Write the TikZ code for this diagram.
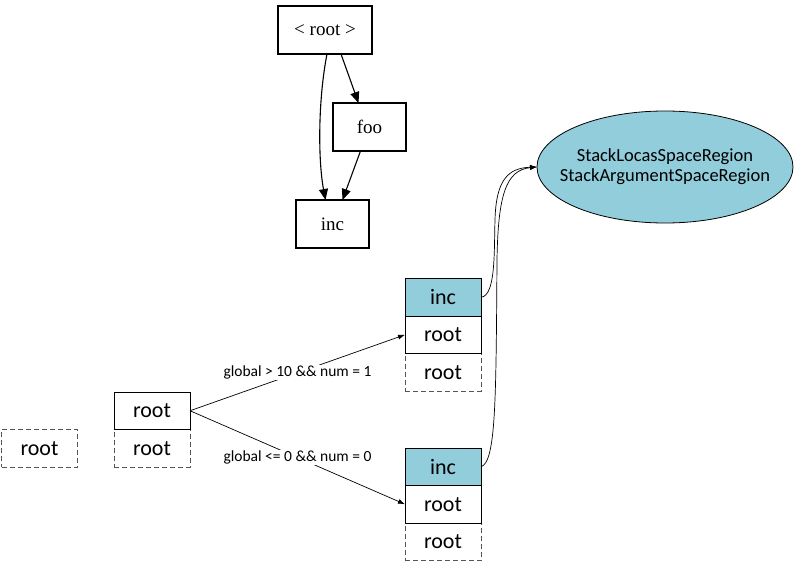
\documentclass[tikz,border=0pt]{standalone}
\usepackage{fontspec}
\setmainfont{Carlito}
\newfontfamily\gvfont{Liberation Serif}
\usetikzlibrary{shapes.geometric,arrows.meta,positioning,calc}
\definecolor{aqua}{RGB}{146,205,220}
\definecolor{dashgray}{RGB}{85,85,85}
\tikzset{
  gvbox/.style={draw, line width=1.1pt, minimum width=73pt, minimum height=48pt, inner sep=2pt, outer sep=0pt, font=\gvfont\fontsize{19}{22}\selectfont},
  gvedge/.style={line width=1.1pt, -{Triangle[length=11pt,width=9pt]}},
  cell/.style={draw, line width=0.8pt, minimum width=76pt, minimum height=37.5pt, inner sep=0pt, outer sep=0pt, font=\fontsize{22}{24}\selectfont},
  hotcell/.style={cell, fill=aqua},
  ghostcell/.style={cell, draw=dashgray, dash pattern=on 5pt off 3pt},
  stedge/.style={line width=0.7pt, -{Latex[length=7pt,width=5pt]}},
  cond/.style={fill=white, inner sep=1pt, font=\fontsize{15.5}{18}\selectfont},
}
\begin{document}
\begin{tikzpicture}[x=1pt,y=-1pt]
\useasboundingbox (0,0) rectangle (795,569);
% call graph
\node[gvbox, minimum width=94pt] (r) at (325,30) {< root >};
\node[gvbox] (f) at (369.5,127) {foo};
\node[gvbox] (i) at (332.5,224) {inc};
\draw[gvedge] ([xshift=2pt]r.south) .. controls (318,100) and (318,160) .. ([xshift=-7pt]i.north);
\draw[gvedge] ([xshift=16pt]r.south) -- ([xshift=-11pt]f.north);
\draw[gvedge] ([xshift=-9pt]f.south) -- ([xshift=10pt]i.north);
% region ellipse
\node[ellipse, draw=black, line width=0.8pt, fill=aqua, minimum width=256pt, minimum height=112pt, inner xsep=-17pt, inner ysep=0pt, outer sep=0pt, align=center, font=\fontsize{18.5}{20}\selectfont] (reg) at (665,167) {StackLocasSpaceRegion\\StackArgumentSpaceRegion};
% leftmost stack
\node[ghostcell] (l1) at (39.5,448.25) {root};
% middle stack
\node[ghostcell] (m2) at (152,448.25) {root};
\node[cell, fill=white] (m1) at (152,410.75) {root};
% stack A
\node[ghostcell] (a3) at (443,372.25) {root};
\node[cell, fill=white] (a2) at (443,334.75) {root};
\node[hotcell] (a1) at (443,297.25) {inc};
% stack B
\node[ghostcell] (b3) at (443,541.75) {root};
\node[cell, fill=white] (b2) at (443,504.25) {root};
\node[hotcell] (b1) at (443,466.75) {inc};
% transitions
\draw[stedge] (m1.east) -- node[cond] {global > 10 \&\& num = 1} (a2.west);
\draw[stedge] (m1.east) -- node[cond] {global <= 0 \&\& num = 0} (b2.west);
% links to region
\draw[stedge] (a1.east) .. controls (496,296) and (494,250) .. (495,220) .. controls (496,180) and (508,168) .. (reg.west);
\draw[stedge] (b1.east) .. controls (496,462) and (496,400) .. (497,260) .. controls (498,195) and (506,170) .. (reg.west);
\end{tikzpicture}
\end{document}
